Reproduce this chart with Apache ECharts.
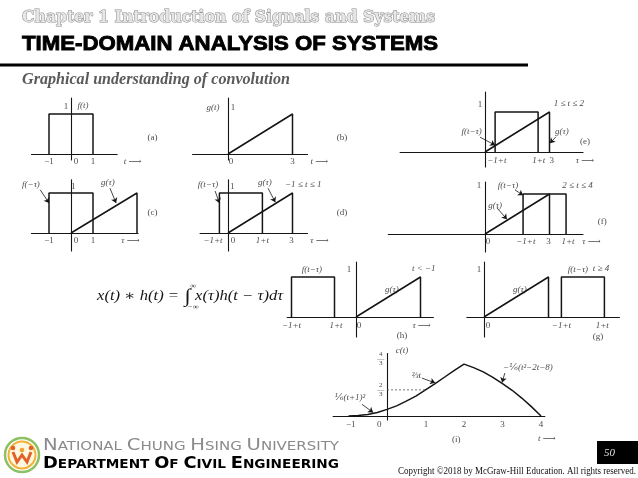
<!DOCTYPE html>
<html><head><meta charset="utf-8">
<script src="https://cdn.jsdelivr.net/npm/echarts@6/dist/echarts.min.js"></script>
<style>html,body{margin:0;padding:0;background:#fff}#c{width:638px;height:478px}</style>
</head><body><div id="c"></div>
<script>
// ---------- data ----------
const fA = [[-1,0],[-1,1],[1,1],[1,0]];          // f(t)
const gB = [[0,0],[3,1],[3,0]];                  // g(t)
const fC = [[-1,0],[-1,1],[1,1],[1,0]];          // f(-tau)
const gC = [[0,0],[3,1],[3,0]];
const fD = [[-0.4,0],[-0.4,1],[1.6,1],[1.6,0]];  // f(t-tau), -1<=t<=1
const gD = [[0,0],[3,1],[3,0]];
const fE = [[0.47,0],[0.47,1],[2.47,1],[2.47,0]];// 1<=t<=2
const gE = [[0,0],[3,1],[3,0]];
const dashE = [[-4.5,0],[-4.36,0]];
const fF = [[1.77,0],[1.77,1],[3.77,1],[3.77,0]];// 2<=t<=4
const gF = [[0,0],[3,1],[3,0]];
const fH = [[-3,0],[-3,1],[-1,1],[-1,0]];        // t<-1
const gH = [[0,0],[3,1],[3,0]];
const fG = [[3.6,0],[3.6,1],[5.6,1],[5.6,0]];    // t>=4
const gG = [[0,0],[3,1],[3,0]];
const cT = [-1,-0.75,-0.5,-0.25,0,0.25,0.5,0.75,1,1.25,1.5,1.75,2,2.25,2.5,2.75,3,3.25,3.5,3.75,4];
const cV = [0,0.01,0.04,0.09,0.17,0.26,0.38,0.51,0.67,0.83,1.0,1.17,1.33,1.24,1.13,0.99,0.83,0.66,0.46,0.24,0];
const ref23 = [[0,0.67],[1,0.67]];

// ---------- layout (pixel origin, px per unit, axis extents) ----------
const L = {
 a:{ox:71, oy:154,xs:22,  ys:40,xmin:-1.8, xmax:2.1, ymin:-0.15,ymax:1.4},
 b:{ox:228,oy:154,xs:21.5,ys:40,xmin:-1.65,xmax:3.7, ymin:-0.15,ymax:1.4},
 c:{ox:71, oy:233,xs:22,  ys:40,xmin:-1.8, xmax:3.05,ymin:-0.45,ymax:1.33},
 d:{ox:228,oy:233,xs:21.5,ys:40,xmin:-1.3, xmax:3.7, ymin:-0.45,ymax:1.33},
 e:{ox:485,oy:152,xs:21.5,ys:40,xmin:-3.95,xmax:4.56,ymin:-0.375,ymax:1.5},
 f:{ox:485,oy:234,xs:21.5,ys:40,xmin:-4.5, xmax:4.56,ymin:-0.45,ymax:1.3},
 h:{ox:356,oy:317,xs:21.5,ys:40,xmin:-3.2, xmax:3.6, ymin:-0.5, ymax:1.375},
 g:{ox:484,oy:317,xs:21.5,ys:40,xmin:-0.8, xmax:6.3, ymin:-0.5, ymax:1.375},
 i:{ox:387,oy:416,xs:38.5,ys:39,xmin:-1.4, xmax:4.1, ymin:-0.1, ymax:1.6}
};

// ---------- annotations (text, in data units) ----------
const AR = ' \u27F6';
const labA = [[-0.23,1.18,'1'],[0.55,1.22,'f(t)','i'],[-1,-0.18,'\u22121'],[0.23,-0.18,'0'],[1,-0.18,'1'],[2.8,-0.18,'t'+AR,'i'],[3.7,0.42,'(a)']];
const labB = [[-0.7,1.15,'g(t)','i'],[0.23,1.15,'1'],[0.14,-0.18,'0'],[3,-0.18,'3'],[4.25,-0.18,'t'+AR,'i'],[5.3,0.42,'(b)']];
const labC = [[-1.82,1.2,'f(\u2212\u03C4)','i'],[0.1,1.15,'1'],[1.68,1.27,'g(\u03C4)','i'],[3.7,0.5,'(c)'],[-1,-0.2,'\u22121'],[0.23,-0.2,'0'],[1,-0.2,'1'],[2.7,-0.2,'\u03C4'+AR,'i']];
const arrC = [[[-1.4,1.08],[-1,0.75]],[[1.77,1.12],[2.05,0.75]]];
const labD = [[-0.93,1.2,'f(t\u2212\u03C4)','i'],[0.2,1.15,'1'],[1.72,1.27,'g(\u03C4)','i'],[3.5,1.2,'\u22121 \u2264 t \u2264 1','i'],[5.3,0.5,'(d)'],[-0.7,-0.2,'\u22121+t','i'],[0.23,-0.2,'0'],[1.6,-0.2,'1+t','i'],[2.95,-0.2,'3'],[4.25,-0.2,'\u03C4'+AR,'i']];
const arrD = [[[-0.6,1.05],[-0.4,0.75]],[[1.86,1.12],[2.2,0.77]]];
const labE = [[-0.23,1.18,'1'],[3.9,1.22,'1 \u2264 t \u2264 2','i'],[-0.62,0.5,'f(t\u2212\u03C4)','i'],[3.58,0.5,'g(\u03C4)','i'],[4.65,0.25,'(e)'],[0.55,-0.22,'\u22121+t','i'],[2.5,-0.22,'1+t','i'],[3.1,-0.22,'3'],[4.65,-0.22,'\u03C4'+AR,'i']];
const arrE = [[[-0.23,0.37],[0.47,0.17]],[[3.3,0.38],[3.02,0.22]]];
const labF = [[-0.28,1.2,'1'],[1.07,1.22,'f(t\u2212\u03C4)','i'],[0.47,0.72,'g(\u03C4)','i'],[4.3,1.2,'2 \u2264 t \u2264 4','i'],[5.45,0.3,'(f)'],[0.14,-0.2,'0'],[1.9,-0.2,'\u22121+t','i'],[2.95,-0.2,'3'],[3.86,-0.2,'1+t','i'],[4.95,-0.2,'\u03C4'+AR,'i']];
const arrF = [[[1.4,1.1],[1.77,0.97]],[[0.56,0.65],[1.02,0.37]]];
const labH = [[-2.05,1.18,'f(t\u2212\u03C4)','i'],[-0.33,1.18,'1'],[3.15,1.22,'t < \u22121','i'],[1.67,0.68,'g(\u03C4)','i'],[-3,-0.22,'\u22121+t','i'],[-0.93,-0.22,'1+t','i'],[0.14,-0.22,'0'],[3.05,-0.22,'\u03C4'+AR,'i'],[2.14,-0.47,'(h)']];
const labG = [[-0.23,1.18,'1'],[1.67,0.68,'g(\u03C4)','i'],[4.37,1.18,'f(t\u2212\u03C4)','i'],[5.44,1.22,'t \u2265 4','i'],[0.19,-0.22,'0'],[3.6,-0.22,'\u22121+t','i'],[5.5,-0.22,'1+t','i'],[5.3,-0.5,'(g)']];
const labI = [[0.39,1.67,'c(t)','i'],[-0.16,1.47,'4\n\u2015\n3','f'],[-0.16,0.67,'2\n\u2015\n3','f'],[0.76,1.03,'\u2154t','i'],[3.66,1.23,'\u2212\u2159(t\u00B2\u22122t\u22128)','i'],[-0.96,0.46,'\u2159(t+1)\u00B2','i'],[-0.94,-0.23,'\u22121'],[-0.2,-0.23,'0'],[1.01,-0.23,'1'],[2,-0.23,'2'],[3,-0.23,'3'],[4,-0.23,'4'],[1.8,-0.6,'(i)'],[4.15,-0.57,'t'+AR,'i']];
const arrI = [[[0.91,0.97],[1.25,0.85]],[[3.06,1.1],[2.99,0.86]],[[-0.65,0.3],[-0.36,0.09]]];

const panels = [
 {k:'a', shapes:[fA], lab:labA, arr:[]},
 {k:'b', shapes:[gB], lab:labB, arr:[]},
 {k:'c', shapes:[fC,gC], lab:labC, arr:arrC},
 {k:'d', shapes:[fD,gD], lab:labD, arr:arrD},
 {k:'e', shapes:[fE,gE], lab:labE, arr:arrE, extra:[dashE]},
 {k:'f', shapes:[fF,gF], lab:labF, arr:arrF},
 {k:'h', shapes:[fH,gH], lab:labH, arr:[]},
 {k:'g', shapes:[fG,gG], lab:labG, arr:[]},
 {k:'i', shapes:[cT.map((t,j)=>[t,cV[j]])], lab:labI, arr:arrI, dashed:[ref23]}
];

const INK = '#151515';
const SERIF = '"Liberation Serif","DejaVu Serif",serif';
const grid=[], xAxis=[], yAxis=[], series=[];
panels.forEach((p,idx)=>{
  const l = L[p.k];
  grid.push({left:l.ox+l.xmin*l.xs, top:l.oy-l.ymax*l.ys, width:(l.xmax-l.xmin)*l.xs, height:(l.ymax-l.ymin)*l.ys, containLabel:false, outerBoundsMode:'none'});
  const ax = {gridIndex:idx, type:'value', silent:true,
    axisLine:{show:true, onZero:true, lineStyle:{color:INK, width:1.1}},
    axisTick:{show:false}, axisLabel:{show:false}, splitLine:{show:false}};
  xAxis.push(Object.assign({min:l.xmin, max:l.xmax}, ax));
  yAxis.push(Object.assign({min:l.ymin, max:l.ymax}, ax));
  p.shapes.forEach(s=>series.push({type:'line', xAxisIndex:idx, yAxisIndex:idx, data:s, symbol:'none', silent:true, z:3, lineStyle:{color:INK, width:1.5}}));
  (p.extra||[]).forEach(s=>series.push({type:'line', xAxisIndex:idx, yAxisIndex:idx, data:s, symbol:'none', silent:true, clip:false, lineStyle:{color:INK, width:1.2}}));
  (p.dashed||[]).forEach(s=>series.push({type:'line', xAxisIndex:idx, yAxisIndex:idx, data:s, symbol:'none', silent:true, lineStyle:{color:'#555', width:0.8, type:[2,2]}}));
  if (p.arr.length) series.push({type:'lines', coordinateSystem:'cartesian2d', xAxisIndex:idx, yAxisIndex:idx, silent:true, z:4,
    symbol:['none','arrow'], symbolSize:5, lineStyle:{color:INK, width:0.8, opacity:1},
    data:p.arr.map(a=>({coords:a}))});
  series.push({type:'scatter', xAxisIndex:idx, yAxisIndex:idx, silent:true, clip:false, symbolSize:1, z:5,
    itemStyle:{color:'rgba(0,0,0,0)'},
    label:{show:true, position:'inside', formatter:'{b}', color:INK, fontFamily:SERIF, fontSize:9},
    data:p.lab.map(q=>({value:[q[0],q[1]], name:q[2], label:
      q[3]==='f' ? {fontSize:7, lineHeight:4.5} : {fontStyle:q[3]==='i'?'italic':'normal'}}))});
});

// ---------- text helpers ----------
const mctx = document.createElement('canvas').getContext('2d');
function tw(text, font){ mctx.font = font; return mctx.measureText(text).width; }
function T(x,y,text,font,fill,extra,target,align){
  const s = target ? target/tw(text,font) : 1;
  return Object.assign({type:'text', x:x, y:y, scaleX:s, silent:true,
    style:Object.assign({text:text, font:font, fill:fill, x:0, y:0,
      textAlign:align||'left', align:align||'left', textVerticalAlign:'middle', verticalAlign:'middle'}, extra||{})});
}
function smallCaps(x,y,words,big,small,fill,target,bold){
  const fb = (bold?'bold ':'')+big+'px "DejaVu Sans"', fs=(bold?'bold ':'')+small+'px "DejaVu Sans"';
  let txt='', w=0;
  words.forEach((wd,i)=>{ const rest = wd.slice(1)+(i<words.length-1?' ':'');
    txt += '{B|'+wd[0]+'}{s|'+rest+'}'; w += tw(wd[0],fb)+tw(rest,fs); });
  return {type:'text', x:x, y:y, scaleX:target/w, silent:true,
    style:{text:txt, x:0, y:0, textAlign:'left', align:'left', textVerticalAlign:'middle', verticalAlign:'middle',
      rich:{B:{font:fb, fill:fill, verticalAlign:'bottom'}, s:{font:fs, fill:fill, verticalAlign:'bottom'}}}};
}

const f1 = 'italic 14px '+SERIF;
const p1 = 'x(t) \u2217 h(t) = ', p2 = 'x(\u03C4)h(t \u2212 \u03C4)d\u03C4';
const w1 = tw(p1,f1), wI = 6, w2 = tw(p2,f1);
const fs = 185/(w1+wI+3+w2);

const graphic = [
  T(22,18,'Chapter 1 Introduction of Signals and Systems','bold 16px "DejaVu Serif"','#e6e6e6',{stroke:'#8a8a8a', lineWidth:1},413),
  T(22,44,'TIME-DOMAIN ANALYSIS OF SYSTEMS','bold 21px "Liberation Sans"','#000',{stroke:'#000', lineWidth:0.9},416),
  {type:'rect', silent:true, shape:{x:0,y:63.5,width:528,height:3}, style:{fill:'#000'}},
  T(22,80,'Graphical understanding of convolution','italic bold 16px '+SERIF,'#5a5a5a',null,268),
  {type:'group', x:97, y:296, scaleX:fs, silent:true, children:[
    T(0,0,p1,f1,INK),
    T(w1+1,1,'\u222B','19px '+SERIF,INK),
    T(w1+6,-10,'\u221E','7px '+SERIF,INK),
    T(w1+4,11,'\u2212\u221E','7px '+SERIF,INK),
    T(w1+wI+4,0,p2,f1,INK)
  ]},
  // logo
  {type:'group', x:22, y:455, silent:true, children:[
    {type:'circle', shape:{cx:0,cy:0,r:17}, style:{fill:'#fff', stroke:'#8cc063', lineWidth:2.5}},
    {type:'circle', shape:{cx:0,cy:0,r:13.5}, style:{fill:'#fff8e0', stroke:'#f2b035', lineWidth:2}},
    {type:'polyline', shape:{points:[[-9,-3],[-5,7],[0,0],[5,7],[9,-3]]}, style:{fill:'none', stroke:'#e0622a', lineWidth:3}},
    {type:'circle', shape:{cx:-9,cy:-7,r:2.3}, style:{fill:'#e0622a'}},
    {type:'circle', shape:{cx:0,cy:-5,r:2.3}, style:{fill:'#f2a030'}},
    {type:'circle', shape:{cx:9,cy:-7,r:2.3}, style:{fill:'#e0622a'}}
  ]},
  smallCaps(43,446,['NATIONAL','CHUNG','HSING','UNIVERSITY'],15,11.5,'#8a8a8a',296,false),
  smallCaps(43,464,['DEPARTMENT','OF','CIVIL','ENGINEERING'],15,11.5,'#000',296,true),
  {type:'rect', silent:true, shape:{x:597,y:441,width:41,height:23}, style:{fill:'#000'}},
  T(604,453,'50','italic 11px '+SERIF,'#e0e0e0'),
  T(636,471,'Copyright \u00A92018 by McGraw-Hill Education. All rights reserved.','10px '+SERIF,'#111',null,238,'right')
];

const chart = echarts.init(document.getElementById('c'), null, {renderer:'canvas'});
chart.setOption({animation:false, backgroundColor:'#fff', grid, xAxis, yAxis, series, graphic});
</script></body></html>
